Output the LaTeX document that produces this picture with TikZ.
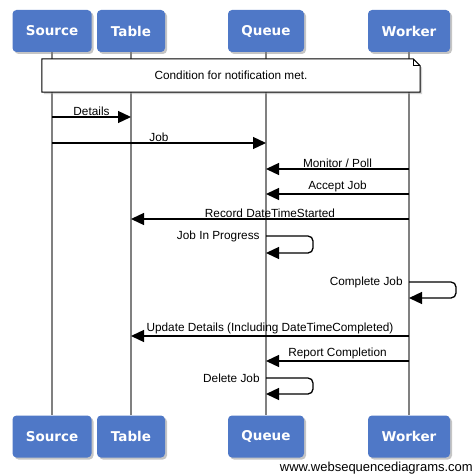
\documentclass[tikz,border=0pt]{standalone}
\usepackage{fontspec}
\setmainfont{Liberation Sans}
\newfontfamily\boxfont{DejaVu Sans}
\usetikzlibrary{arrows.meta,shadows}
\definecolor{boxblue}{RGB}{79,120,199}

\begin{document}
\begin{tikzpicture}[x=1pt,y=-1pt,
        actor/.style={fill=boxblue, rounded corners=4pt, minimum height=42pt, inner sep=0pt,
            text=white, font=\boxfont\bfseries\fontsize{13.5}{15}\selectfont,
            drop shadow={shadow xshift=2pt, shadow yshift=-2pt, fill=black!45}},
        life/.style={draw=black!50, line width=1.2pt},
        msg/.style={line width=1.3pt, -{Triangle[length=13pt,width=12pt]}},
        lbl/.style={font=\fontsize{11.8}{14}\selectfont, inner sep=1.2pt}]
        \useasboundingbox (0,0) rectangle (474,476);

        \node[actor, minimum width=79pt] (Source) at (52,31) {Source};
        \node[actor, minimum width=68pt] (Table) at (131,31) {Table};
        \node[actor, minimum width=76pt] (Queue) at (266,31) {Queue};
        \node[actor, minimum width=82pt] (Worker) at (409,31) {Worker};
        \node[actor, minimum width=79pt] (SourceB) at (52,436.5) {Source};
        \node[actor, minimum width=68pt] (TableB) at (131,436.5) {Table};
        \node[actor, minimum width=76pt] (QueueB) at (266,436.5) {Queue};
        \node[actor, minimum width=82pt] (WorkerB) at (409,436.5) {Worker};

        \draw[life] (Source) -- (SourceB);
        \draw[life] (Table) -- (TableB);
        \draw[life] (Queue) -- (QueueB);
        \draw[life] (Worker) -- (WorkerB);

        \node[minimum width=378pt, minimum height=33pt, inner sep=0pt] (note) at (231,75.5) {};
        \draw[fill=white, line width=1pt, drop shadow={shadow xshift=2pt, shadow yshift=-2pt, fill=black!35}]
            (note.north west) -- ([xshift=-7pt]note.north east) -- ([yshift=-7pt]note.north east)
            -- (note.south east) -- (note.south west) -- cycle;
        \draw[line width=0.8pt] ([xshift=-7pt]note.north east) -- ([xshift=-7pt,yshift=-7pt]note.north east)
            -- ([yshift=-7pt]note.north east);
        \node[lbl] at (note) {Condition for notification met.};

        \coordinate (r1) at (0,117);
        \coordinate (r2) at (0,143);
        \coordinate (r3) at (0,169);
        \coordinate (r4) at (0,194);
        \coordinate (r5) at (0,219);
        \coordinate (r6) at (0,236);
        \coordinate (r7) at (0,282);
        \coordinate (r8) at (0,336);
        \coordinate (r9) at (0,361);
        \coordinate (r10) at (0,378);

        \draw[msg] (Source |- r1) -- (Table |- r1) node[midway, above, lbl] {Details};
        \draw[msg] (Source |- r2) -- (Queue |- r2) node[midway, above, lbl] {Job};
        \draw[msg] (Worker |- r3) -- (Queue |- r3) node[midway, above, lbl] {Monitor / Poll};
        \draw[msg] (Worker |- r4) -- (Queue |- r4) node[midway, above, lbl] {Accept Job};
        \draw[msg] (Worker |- r5) -- (Table |- r5) node[midway, above, lbl] {Record DateTimeStarted};
        \draw[msg, rounded corners=5pt] (Queue |- r6) -- ++(47,0) -- ++(0,17) -- ++(-47,0);
        \node[lbl, anchor=east] at ([xshift=-5pt]Queue |- r6) {Job In Progress};
        \draw[msg, rounded corners=5pt] (Worker |- r7) -- ++(47,0) -- ++(0,16) -- ++(-47,0);
        \node[lbl, anchor=east] at ([xshift=-5pt]Worker |- r7) {Complete Job};
        \draw[msg] (Worker |- r8) -- (Table |- r8) node[midway, above, lbl] {Update Details (Including DateTimeCompleted)};
        \draw[msg] (Worker |- r9) -- (Queue |- r9) node[midway, above, lbl] {Report Completion};
        \draw[msg, rounded corners=5pt] (Queue |- r10) -- ++(47,0) -- ++(0,16) -- ++(-47,0);
        \node[lbl, anchor=east] at ([xshift=-5pt]Queue |- r10) {Delete Job};

        \node[anchor=east, inner sep=0pt, font=\fontsize{13}{15}\selectfont] (site) at (473,468) {www.websequencediagrams.com};
\end{tikzpicture}
\end{document}
